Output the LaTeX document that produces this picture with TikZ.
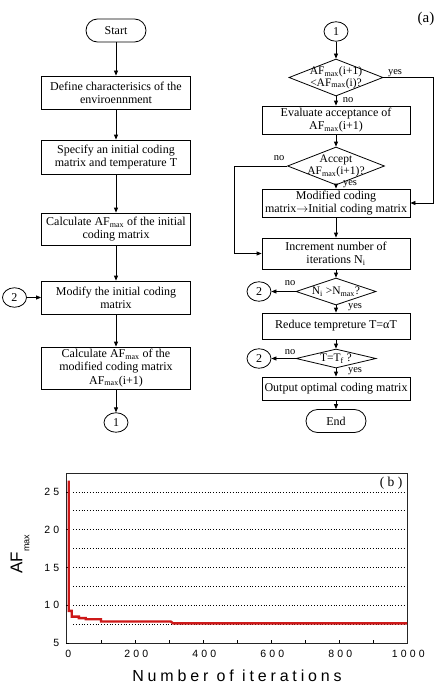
\documentclass[tikz,border=0pt]{standalone}
\usepackage{fontspec}
\setmainfont{Liberation Serif}
\newfontfamily\plotfont[LetterSpace=30]{Liberation Sans}
\newfontfamily\xlabfont[LetterSpace=24]{Liberation Sans}
\newfontfamily\ylabfont{Liberation Sans}
\newfontfamily\bfontx[LetterSpace=25]{Liberation Serif}
\usetikzlibrary{shapes.geometric,arrows.meta}
\definecolor{curvered}{RGB}{205,25,25}
\begin{document}
\begin{tikzpicture}[x=1pt,y=-1pt,
  font=\fontsize{12}{13.2}\selectfont,
  line width=0.8pt,
  box/.style={draw, align=center, inner sep=1pt, minimum width=149pt},
  rbox/.style={draw, align=center, inner sep=1pt, minimum width=148pt},
  term/.style={draw, rounded corners=11.5pt, minimum width=60pt, minimum height=23pt, inner sep=0pt},
  conn/.style={draw, ellipse, minimum width=24pt, minimum height=19.5pt, inner sep=0pt},
  dec/.style={draw, diamond, inner sep=0pt},
  dtext/.style={align=center, inner sep=0pt, font=\fontsize{11.5}{11.8}\selectfont},
  arr/.style={-{Triangle[length=5pt,width=4pt]}},
  lbl/.style={font=\fontsize{10.5}{10.5}\selectfont, inner sep=0pt},
  gridline/.style={line width=0.7pt, dash pattern=on 1pt off 1.8pt},
  tlab/.style={font=\plotfont\fontsize{10.5}{10.5}\selectfont, inner sep=0pt},
]
\useasboundingbox (0,0) rectangle (444,685);

% ---------- left column ----------
\node[term] (start) at (116,30.5) {Start};
\node[box, minimum height=33pt] (def) at (116,92.5) {Define characterisics of the\\enviroennment};
\node[box, minimum height=34pt] (spec) at (116,157) {Specify an initial coding\\matrix and temperature T};
\node[box, minimum height=32pt] (calc1) at (116,229) {Calculate AF\textsubscript{max} of the initial\\coding matrix};
\node[box, minimum height=33pt] (modi) at (116,297.5) {Modify the initial coding\\matrix};
\node[box, minimum height=42pt] (calc2) at (116,368) {Calculate AF\textsubscript{max} of the\\modified coding matrix\\AF\textsubscript{max}(i+1)};
\node[conn] (c1l) at (116,422.5) {1};
\node[conn] (c2l) at (14.5,297.5) {2};

\draw[arr] (start) -- (def);
\draw[arr] (def) -- (spec);
\draw[arr] (spec) -- (calc1);
\draw[arr] (calc1) -- (modi);
\draw[arr] (modi) -- (calc2);
\draw[arr] (calc2) -- (c1l);
\draw[arr] (c2l) -- (modi);

% ---------- right column ----------
\node[font=\fontsize{15}{15}\selectfont, inner sep=0pt] (la) at (426,18.5) {(a)};
\node[conn] (c1r) at (336,31.5) {1};
\node[dec, minimum width=94pt, minimum height=37pt] (d1) at (336,77.5) {};
\node[dtext] (d1t) at (d1) {AF\textsubscript{max}(i+1)\\<AF\textsubscript{max}(i)?};
\node[rbox, minimum height=28pt] (eval) at (336,120) {Evaluate acceptance of\\AF\textsubscript{max}(i+1)};
\node[dec, minimum width=97pt, minimum height=38pt] (d2) at (336,166) {};
\node[dtext] (d2t) at (d2) {Accept\\AF\textsubscript{max}(i+1)?};
\node[rbox, minimum height=28pt] (modc) at (336,203) {Modified coding\\matrix$\rightarrow$Initial coding matrix};
\node[rbox, minimum height=31pt] (inc) at (336,253.5) {Increment number of\\iterations N\textsubscript{i}};
\node[dec, minimum width=80pt, minimum height=27pt] (d3) at (336,291.5) {};
\node[dtext] (d3t) at (d3) {N\textsubscript{i} >N\textsubscript{max}?};
\node[conn] (c2a) at (259,291.5) {2};
\node[rbox, minimum height=26pt] (redu) at (336,326) {Reduce tempreture T=αT};
\node[dec, minimum width=80pt, minimum height=19pt] (d4) at (336,358.5) {};
\node[dtext] (d4t) at (d4) {T=T\textsubscript{f} ?};
\node[conn] (c2b) at (259,358.5) {2};
\node[rbox, minimum height=23pt] (outp) at (336,388.5) {Output optimal coding matrix};
\node[term] (endn) at (336,421) {End};

\coordinate (R) at (433,0);
\coordinate (L) at (234,0);

\draw[arr] (c1r) -- (d1);
\draw[arr] (d1.south) -- (eval.north);
\draw[arr] (d1.east) -| (R |- modc.east) -- (modc.east);
\draw[arr] (eval) -- (d2);
\draw[arr] (d2.south) -- (modc.north);
\draw[arr] (d2.west) -| (L |- inc.west) -- (inc.west);
\draw[arr] (modc) -- (inc);
\draw[arr] (inc) -- (d3);
\draw[arr] (d3.west) -- (c2a);
\draw[arr] (d3.south) -- (redu.north);
\draw[arr] (redu) -- (d4);
\draw[arr] (d4.west) -- (c2b);
\draw[arr] (d4.south) -- (outp.north);
\draw[arr] (outp) -- (endn);

\node[lbl] (y1) at (395,73.5) {yes};
\node[lbl] (n1) at (348,100) {no};
\node[lbl] (n2) at (279,158.5) {no};
\node[lbl] (y2) at (350,184.5) {yes};
\node[lbl] (n3) at (290,283) {no};
\node[lbl] (y3) at (355,307) {yes};
\node[lbl] (n4) at (290,352.5) {no};
\node[lbl] (y4) at (355,371) {yes};

% ---------- plot (b) ----------
\begin{scope}[shift={(67pt,-643pt)}, x=0.34pt, y=7.555pt]
  \foreach \v in {2.5,5,...,20} \draw[gridline] (18,\v) -- (998,\v);
  \draw[line width=0.8pt, black!85] (-3,0) rectangle (1000,22.5);
  \foreach \xx in {100,200,...,900} \draw[line width=0.7pt] (\xx,0) -- (\xx,0.4);
  \foreach \v in {0,5,...,20} \draw[line width=0.7pt] (-3,\v) -- (6,\v);
  \foreach \xx in {0,200,400,600,800,1000}
    \node[tlab] (xt\xx) at (\xx+4,-1.45) {\xx};
  \foreach \v/\t in {0/5,5/10,10/15,15/20,20/25}
    \node[tlab, anchor=east] (yt\t) at (-22,\v) {\t};
  \draw[curvered, line width=2.4pt, line join=miter] (5,21.5) -- (5,4.25) -- (14,4.25) -- (14,3.5) -- (35,3.5) -- (35,3.3) -- (55,3.3) -- (55,3.15) -- (100,3.15) -- (100,2.85) -- (305,2.85) -- (312,2.6) -- (1000,2.6);
\end{scope}
\node[font=\bfontx\fontsize{13.5}{13.5}\selectfont, inner sep=0pt] (lb) at (391,483) {(b)};
\node[rotate=90, inner sep=0pt, font=\ylabfont\fontsize{17}{17}\selectfont] (ylab) at (20,554) {AF\raisebox{-7pt}{\fontsize{9}{9}\selectfont max}};
\node[inner sep=0pt, font=\xlabfont\fontsize{16}{16}\selectfont] (xlab) at (237,676) {Number of iterations};
\end{tikzpicture}
\end{document}
